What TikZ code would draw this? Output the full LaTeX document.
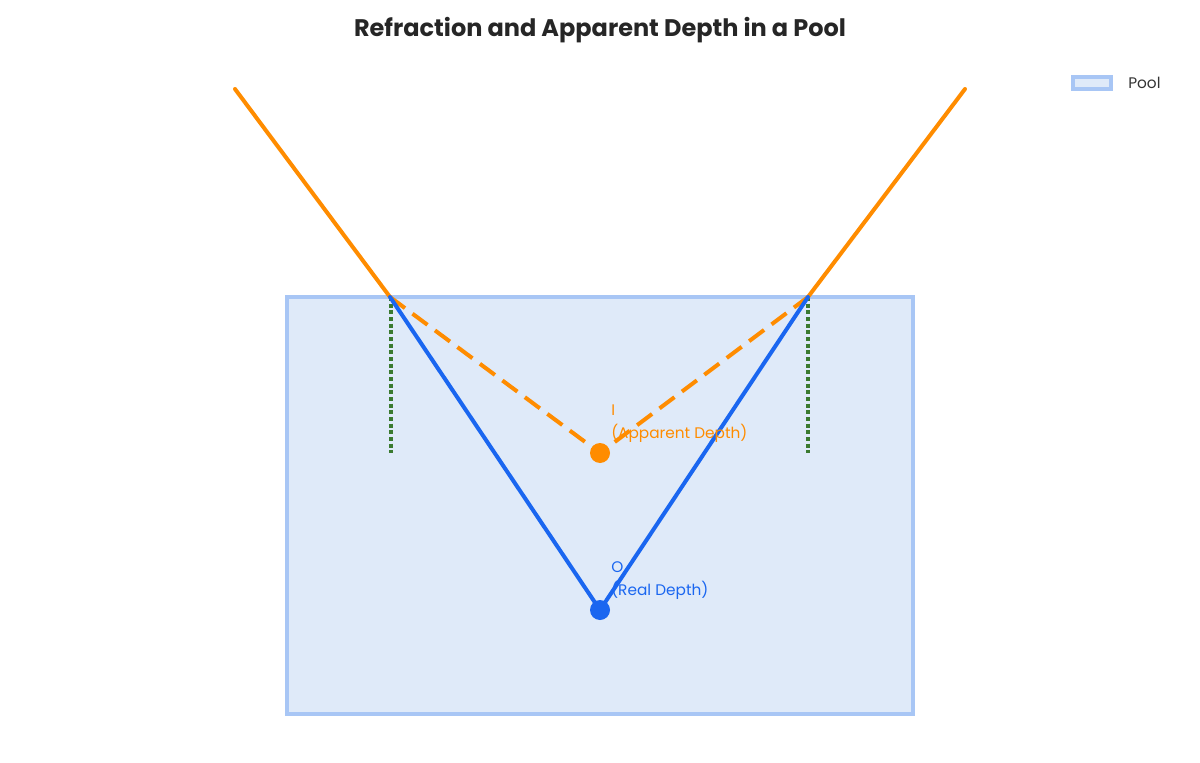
\documentclass[tikz,border=0pt]{standalone}
\usepackage{fontspec}
\setmainfont{Poppins}
\definecolor{orng}{HTML}{FF8C00}
\definecolor{blu}{HTML}{1A66F0}
\definecolor{grn}{HTML}{3A7A30}
\definecolor{poolfill}{HTML}{DFEAF9}
\definecolor{pooledge}{HTML}{A8C6F5}
\begin{document}
\begin{tikzpicture}[x=0.75pt,y=-0.75pt,
  ray/.style={line width=3pt,line cap=round},
  lbl/.style={anchor=west,font=\fontsize{11.5}{13}\selectfont,inner sep=0pt}]
\useasboundingbox (0,0) rectangle (1200,763);
\node[font=\fontsize{18}{20}\selectfont\bfseries,text=black!85] (title) at (600,30) {Refraction and Apparent Depth in a Pool};
\draw[fill=poolfill,draw=pooledge,line width=3pt] (287,297) rectangle (913,714);
\draw[fill=poolfill,draw=pooledge,line width=3pt] (1073,77) rectangle (1111,89);
\node[lbl,text=black!80] (leg) at (1128,83) {Pool};
\coordinate (L) at (390,297); \coordinate (R) at (808,297);
\coordinate (LT) at (235,89); \coordinate (RT) at (965,89);
\coordinate (I) at (600,453); \coordinate (O) at (600,610);
\draw[grn,line width=3pt,dotted] (391,297) -- (391,453);
\draw[grn,line width=3pt,dotted] (808,297) -- (808,453);
\draw[ray,orng] (LT) -- (L); \draw[ray,orng] (RT) -- (R);
\draw[orng,line width=3pt,dash pattern=on 14pt off 7pt] (L) -- (I) -- (R);
\draw[ray,blu] (L) -- (O) -- (R);
\fill[orng] (I) circle (7.5pt);
\fill[blu] (O) circle (7.5pt);
\node[lbl,text=orng] (il1) at (611,410) {I};
\node[lbl,text=orng] (il2) at (611,433) {(Apparent Depth)};
\node[lbl,text=blu] (ol1) at (611,567) {O};
\node[lbl,text=blu] (ol2) at (611,590) {(Real Depth)};
\end{tikzpicture}
\end{document}
